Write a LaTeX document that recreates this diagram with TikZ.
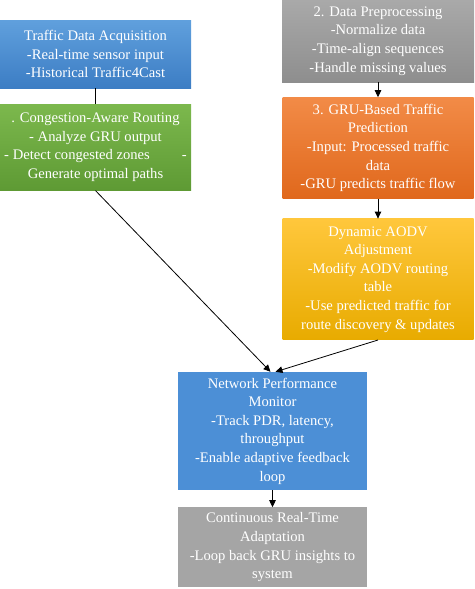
\documentclass[tikz,border=0pt]{standalone}
\usepackage{fontspec}
\setmainfont{Liberation Serif}
\usetikzlibrary{arrows.meta, positioning}

\definecolor{blueTop}{HTML}{60A0DD}
\definecolor{blueBot}{HTML}{3C7DC4}
\definecolor{blueFlat}{HTML}{4C8FD6}
\definecolor{greenTop}{HTML}{7CB84D}
\definecolor{greenBot}{HTML}{5E9A34}
\definecolor{grayTop}{HTML}{A9A9A9}
\definecolor{grayBot}{HTML}{8E8E8E}
\definecolor{grayFlat}{HTML}{A5A5A5}
\definecolor{orangeTop}{HTML}{F28B47}
\definecolor{orangeBot}{HTML}{E0681C}
\definecolor{goldTop}{HTML}{FFC73C}
\definecolor{goldBot}{HTML}{E8AB00}

\tikzset{
  stage/.style={inner sep=0pt, align=center, text=white,
                font=\fontsize{14.6}{18.6}\selectfont},
  link/.style={draw=black, line width=0.8pt},
  flow/.style={link, -{Triangle[length=7pt,width=6.5pt]}}
}

\begin{document}
\begin{tikzpicture}[x=1pt, y=1pt]
  \useasboundingbox (0,0) rectangle (474,-589);

  % left column
  \node[stage, minimum width=191pt, minimum height=68pt,
        top color=blueTop, bottom color=blueBot] (acq) at (95.5,-54)
    {Traffic Data Acquisition\\-Real-time sensor input\\-Historical Traffic4Cast};
  \node[stage, minimum width=191pt, minimum height=86pt,
        top color=greenTop, bottom color=greenBot, below=16pt of acq] (route)
    {. Congestion-Aware Routing\\ - Analyze GRU output\\
     - Detect congested zones\hspace{2.2em}-\\ Generate optimal paths};

  % right column
  \node[stage, minimum width=192pt, minimum height=82pt,
        top color=grayTop, bottom color=grayBot] (prep) at (378,-41)
    {2. Data Preprocessing\\-Normalize data\\-Time-align sequences\\-Handle missing values};
  \node[stage, minimum width=191pt, minimum height=101pt,
        top color=orangeTop, bottom color=orangeBot, below=15pt of prep] (gru)
    {3. GRU-Based Traffic\\Prediction\\-Input: Processed traffic\\data\\-GRU predicts traffic flow};
  \node[stage, minimum width=191pt, minimum height=121pt,
        top color=goldTop, bottom color=goldBot, below=20pt of gru] (aodv)
    {Dynamic AODV\\Adjustment\\-Modify AODV routing\\table\\-Use predicted traffic for\\route discovery \& updates};

  % bottom pair
  \node[stage, minimum width=189pt, minimum height=118pt,
        fill=blueFlat] (monitor) at (272.5,-431)
    {Network Performance\\Monitor\\-Track PDR, latency,\\throughput\\-Enable adaptive feedback\\loop};
  \node[stage, minimum width=189pt, minimum height=80pt,
        fill=grayFlat, below=17pt of monitor] (adapt)
    {Continuous Real-Time\\Adaptation\\-Loop back GRU insights to\\system};

  \draw[link] (acq) -- (route);
  \draw[flow] (prep) -- (gru);
  \draw[flow] (gru) -- (aodv);
  \draw[flow] (route.south) -- ([xshift=-2pt]monitor.north);
  \draw[flow] (aodv.south) -- ([xshift=3pt]monitor.north);
  \draw[flow] (monitor) -- (adapt);
\end{tikzpicture}
\end{document}
